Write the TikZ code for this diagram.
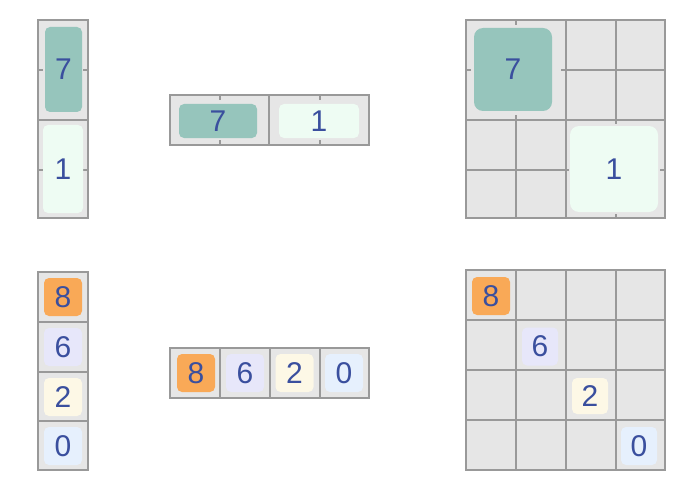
\documentclass[tikz,border=0pt]{standalone}
\usepackage{fontspec}
\setmainfont{Liberation Sans}
\definecolor{cellgray}{HTML}{E6E6E6}
\definecolor{gridgray}{HTML}{999999}
\definecolor{numblue}{HTML}{3A4F9E}
\definecolor{teal7}{HTML}{96C5BC}
\definecolor{mint1}{HTML}{EEFCF3}
\definecolor{orange8}{HTML}{F9A957}
\definecolor{lav6}{HTML}{E7E7FA}
\definecolor{cream2}{HTML}{FDF8E6}
\definecolor{ice0}{HTML}{E6F0FD}

\begin{document}
\begin{tikzpicture}[
  x=1pt, y=-1pt,
  frame/.style={draw=gridgray, line width=2.8pt, fill=cellgray},
  gline/.style={draw=gridgray, line width=2.8pt},
  cover/.style={fill=cellgray},
  tile/.style={rounded corners=5pt, inner sep=0pt, text=numblue,
    font=\fontsize{30}{30}\selectfont},
  big/.style={tile, rounded corners=9pt},
  small/.style={tile, minimum width=38pt, minimum height=38pt}
]
  \useasboundingbox (0,0) rectangle (690,492);

  % top: column of two
  \draw[frame] (38,20) rectangle (88,218);
  \foreach \y in {70,120,170} \draw[gline] (38,\y) -- (88,\y);
  \fill[cover] (43,25) rectangle (83,115);
  \fill[cover] (43,125) rectangle (83,213);
  \node[tile, fill=teal7, minimum width=37pt, minimum height=85pt] (c7) at (63.5,69.5) {7};
  \node[tile, fill=mint1, minimum width=40pt, minimum height=88pt] (c1) at (63,169) {1};

  % top: row of two
  \draw[frame] (170,95) rectangle (369,145);
  \foreach \x in {220,269,320} \draw[gline] (\x,95) -- (\x,145);
  \fill[cover] (175,100) rectangle (264,140);
  \fill[cover] (274,100) rectangle (364,140);
  \node[tile, fill=teal7, minimum width=78pt, minimum height=34pt] (r7) at (218,121) {7};
  \node[tile, fill=mint1, minimum width=80pt, minimum height=34pt] (r1) at (319,121) {1};

  % top: 4x4 board
  \draw[frame] (466,20) rectangle (665,218);
  \foreach \x in {516,566,616} \draw[gline] (\x,20) -- (\x,218);
  \foreach \y in {70,120,170} \draw[gline] (466,\y) -- (665,\y);
  \fill[cover] (471,25) rectangle (561,115);
  \fill[cover] (569,124) rectangle (660,214);
  \node[big, fill=teal7, minimum width=78pt, minimum height=83pt] (b7) at (513,69.5) {7};
  \node[big, fill=mint1, minimum width=88pt, minimum height=86pt] (b1) at (614,169) {1};

  % bottom: column of four
  \draw[frame] (38,272) rectangle (88,470);
  \foreach \y in {322,372,421} \draw[gline] (38,\y) -- (88,\y);
  \node[small, fill=orange8] (c8) at (63,297) {8};
  \node[small, fill=lav6] (c6) at (63,347) {6};
  \node[small, fill=cream2] (c2) at (63,397) {2};
  \node[small, fill=ice0] (c0) at (63,446) {0};

  % bottom: row of four
  \draw[frame] (170,348) rectangle (369,398);
  \foreach \x in {220,270,320} \draw[gline] (\x,348) -- (\x,398);
  \node[small, fill=orange8] (r8) at (196,373) {8};
  \node[small, fill=lav6] (r6) at (245,373) {6};
  \node[small, fill=cream2] (r2) at (294.5,373) {2};
  \node[small, fill=ice0] (r0) at (344,373) {0};

  % bottom: 4x4 board
  \draw[frame] (466,270) rectangle (665,470);
  \foreach \x in {516,566,616} \draw[gline] (\x,270) -- (\x,470);
  \foreach \y in {320,370,420} \draw[gline] (466,\y) -- (665,\y);
  \node[small, fill=orange8] (b8) at (491,296) {8};
  \node[small, fill=lav6, minimum width=36pt] (b6) at (540,346.5) {6};
  \node[small, fill=cream2, minimum width=36pt, minimum height=36pt] (b2) at (590,396) {2};
  \node[small, fill=ice0, minimum width=36pt] (b0) at (639,446) {0};
\end{tikzpicture}
\end{document}
